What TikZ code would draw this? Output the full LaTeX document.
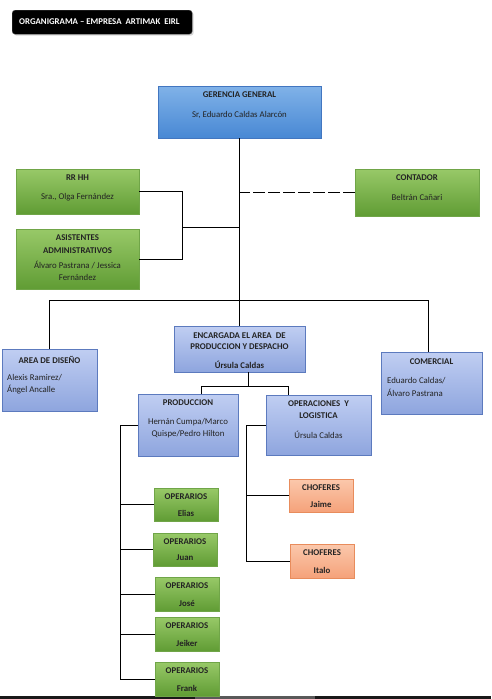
\documentclass[tikz,border=0pt]{standalone}
\usepackage{fontspec}
\setmainfont{Carlito}
\usetikzlibrary{shadows}
\definecolor{grT}{RGB}{152,201,104}
\definecolor{grB}{RGB}{96,156,52}
\definecolor{grD}{RGB}{112,165,72}
\definecolor{blT}{RGB}{128,178,232}
\definecolor{blB}{RGB}{72,136,212}
\definecolor{blD}{RGB}{66,118,192}
\definecolor{lvT}{RGB}{192,206,242}
\definecolor{lvB}{RGB}{142,165,222}
\definecolor{lvD}{RGB}{92,122,190}
\definecolor{orT}{RGB}{251,200,172}
\definecolor{orB}{RGB}{245,162,122}
\definecolor{orD}{RGB}{232,140,92}
\definecolor{txt}{RGB}{35,35,35}
\begin{document}
\begin{tikzpicture}[x=1pt,y=-1pt,
  box/.style={rectangle, inner sep=0pt, outer sep=0pt, anchor=north west, line width=0.6pt,
    drop shadow={shadow xshift=1pt, shadow yshift=-1.2pt, opacity=0.25}},
  greenbox/.style={box, draw=grD, top color=grT, bottom color=grB},
  bluebox/.style={box, draw=blD, top color=blT, bottom color=blB},
  lavbox/.style={box, draw=lvD, top color=lvT, bottom color=lvB},
  orbox/.style={box, draw=orD, top color=orT, bottom color=orB},
  tx/.style={inner sep=0pt, text=txt, font=\fontsize{8.8}{10}\selectfont},
  tb/.style={inner sep=0pt, text=txt, font=\fontsize{8.8}{10}\selectfont\bfseries},
  conn/.style={line width=0.9pt, black}]
\useasboundingbox (0,0) rectangle (491,699);
\fill[white] (0,0) rectangle (491,699);
% bottom bar
\fill[black!90] (0,696) rectangle (491,699);
\fill[black!65] (195,696) rectangle (315,699);

% title
\node[rectangle, rounded corners=3pt, fill=black, draw=black!70, anchor=north west,
  minimum width=180pt, minimum height=24pt, inner sep=0pt,
  drop shadow={shadow xshift=1.5pt, shadow yshift=-1.5pt, opacity=0.3}] (title) at (12,10) {};
\node[inner sep=0pt, text=white, font=\fontsize{8.8}{10}\selectfont\bfseries, anchor=west] (titletext) at (19,21.5) {ORGANIGRAMA -- EMPRESA\ \ ARTIMAK\ \ EIRL};

% boxes
\node[bluebox, minimum width=163pt, minimum height=52pt] (gg) at (158,86) {};
\node[greenbox, minimum width=124pt, minimum height=47pt] (cont) at (355,169) {};
\node[greenbox, minimum width=123pt, minimum height=45pt] (rrhh) at (16,169) {};
\node[greenbox, minimum width=123pt, minimum height=60pt] (asis) at (16,229) {};
\node[lavbox, minimum width=95pt, minimum height=62pt] (dis) at (2,349) {};
\node[lavbox, minimum width=131pt, minimum height=46pt] (enc) at (174,326) {};
\node[lavbox, minimum width=101pt, minimum height=62pt] (com) at (381,352) {};
\node[lavbox, minimum width=100pt, minimum height=62pt] (prod) at (138,394) {};
\node[lavbox, minimum width=105pt, minimum height=60pt] (ops) at (266,395) {};
\node[greenbox, minimum width=64pt, minimum height=33pt] (op1) at (154,488) {};
\node[greenbox, minimum width=64pt, minimum height=33pt] (op2) at (153,533) {};
\node[greenbox, minimum width=64pt, minimum height=34pt] (op3) at (155,577) {};
\node[greenbox, minimum width=64pt, minimum height=34pt] (op4) at (155,617) {};
\node[greenbox, minimum width=64pt, minimum height=34pt] (op5) at (155,662) {};
\node[orbox, minimum width=64pt, minimum height=33pt] (ch1) at (289,479) {};
\node[orbox, minimum width=64pt, minimum height=34pt] (ch2) at (290,544) {};

% texts
\node[tb] (ggt1) at (239.5,95) {GERENCIA GENERAL};
\node[tx] (ggt2) at (239.5,115) {Sr, Eduardo Caldas Alarcón};
\node[tb] (cot1) at (417,178) {CONTADOR};
\node[tx] (cot2) at (417,197) {Beltrán Cañari};
\node[tb] (rrt1) at (77.5,178) {RR HH};
\node[tx] (rrt2) at (77.5,197) {Sra., Olga Fernández};
\node[tb] (ast1) at (77.5,238) {ASISTENTES};
\node[tb] (ast2) at (77.5,251) {ADMINISTRATIVOS};
\node[tx] (ast3) at (77.5,265) {Álvaro Pastrana / Jessica};
\node[tx] (ast4) at (77.5,277) {Fernández};
\node[tb] (dit1) at (49.5,360) {AREA DE DISEÑO};
\node[tx, anchor=west] (dit2) at (7,378) {Alexis Ramirez/};
\node[tx, anchor=west] (dit3) at (7,390) {Ángel Ancalle};
\node[tb] (ent1) at (239.5,336) {ENCARGADA EL AREA\ \ DE};
\node[tb] (ent2) at (239.5,347) {PRODUCCION Y DESPACHO};
\node[tb] (ent3) at (239.5,365) {Úrsula Caldas};
\node[tb] (cmt1) at (431.5,362) {COMERCIAL};
\node[tx, anchor=west] (cmt2) at (387,381) {Eduardo Caldas/};
\node[tx, anchor=west] (cmt3) at (387,393) {Álvaro Pastrana};
\node[tb] (prt1) at (188,403) {PRODUCCION};
\node[tx] (prt2) at (188,422) {Hernán Cumpa/Marco};
\node[tx] (prt3) at (188,434) {Quispe/Pedro Hilton};
\node[tb] (opt1) at (318.5,404) {OPERACIONES\ \ Y};
\node[tb] (opt2) at (318.5,416) {LOGISTICA};
\node[tx] (opt3) at (318.5,435) {Úrsula Caldas};
\foreach \n/\nm in {op1/Elias,op2/Juan,op3/José,op4/Jeiker,op5/Frank}{
  \node[tb] (\n a) at ([yshift=-8.5pt]\n.north) {OPERARIOS};
  \node[tb] (\n b) at ([yshift=8pt]\n.south) {\nm};
}
\node[tb] (ch1a) at ([yshift=-9pt]ch1.north) {CHOFERES};
\node[tb] (ch1b) at ([yshift=7.5pt]ch1.south) {Jaime};
\node[tb] (ch2a) at ([yshift=-9pt]ch2.north) {CHOFERES};
\node[tb] (ch2b) at ([yshift=7.5pt]ch2.south) {Italo};

% connectors
\coordinate (bar) at (240,300);
\coordinate (cm) at (428,300);
\coordinate (brk) at (182,227);
\coordinate (ptr) at (120,425);
\coordinate (otr) at (246,425);
\coordinate (sp) at (248,386);
\draw[conn] (gg.south) -- (enc.north);
\draw[conn, dash pattern=on 12pt off 3pt] (cont.west |- 0,192) -- (gg.south |- 0,192);
\draw[conn] (rrhh.east) -- (rrhh.east -| brk) -- (brk |- asis.east) -- (asis.east);
\draw[conn] (brk) -- (brk -| gg.south);
\draw[conn] (dis.north) |- (cm) -- (cm |- com.north);
\draw[conn] (enc.south -| sp) -- (sp);
\draw[conn] (prod.north -| 201,0) -- (201,386) -- (288,386) -- (ops.north -| 288,0);
\draw[conn] (prod.west) -- (ptr) |- (op5.west);
\foreach \n in {op1,op2,op3,op4}{\draw[conn] (\n.west) -- (\n.west -| ptr);}
\draw[conn] (ops.west) -- (otr) |- (ch2.west);
\draw[conn] (ch1.west) -- (ch1.west -| otr);
\end{tikzpicture}
\end{document}
